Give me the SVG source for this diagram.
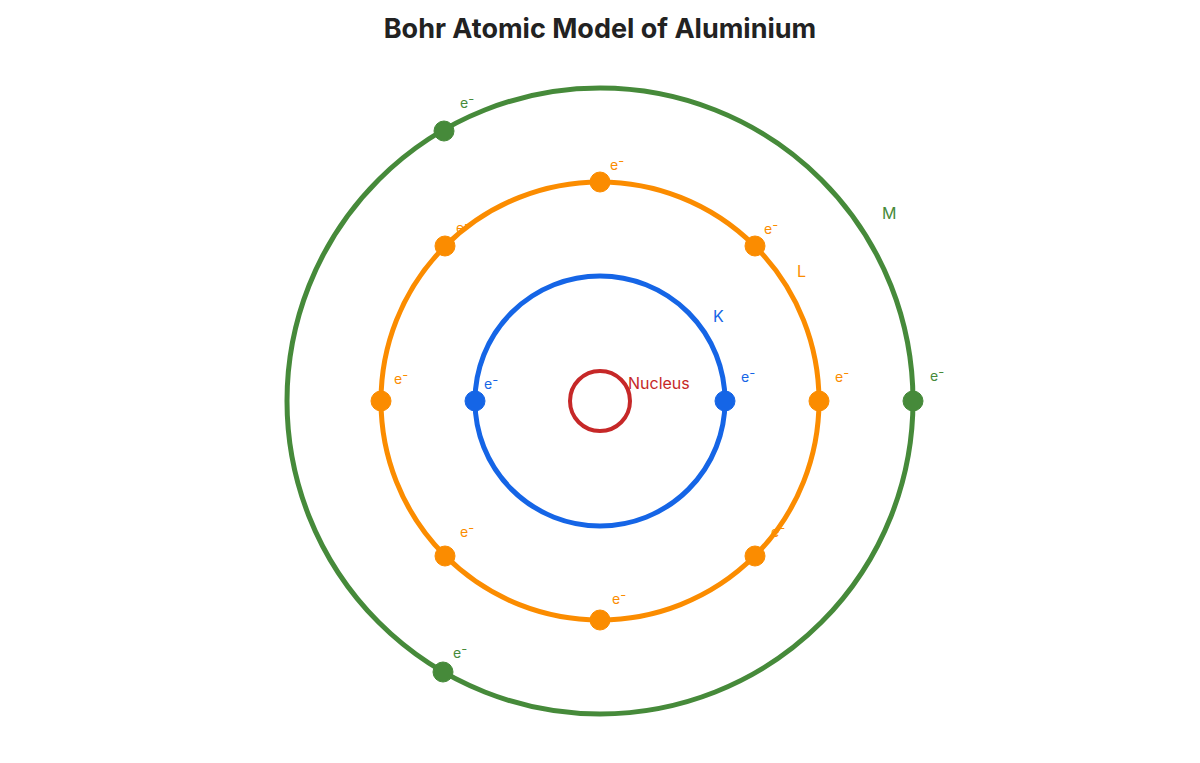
<svg xmlns="http://www.w3.org/2000/svg" width="1200" height="763" viewBox="0 0 1200 763">
<style>
text{font-family:Inter,"Noto Sans","Liberation Sans",sans-serif}
.t{font-size:27px;font-weight:700;fill:#222}
.s{font-size:16px}
.e{font-size:14px}
.orb{fill:none;stroke-width:5}
.k{fill:#1565e6;stroke:#1565e6}.l{fill:#fb8c00;stroke:#fb8c00}.m{fill:#468a3a;stroke:#468a3a}
text.k,text.l,text.m,text.n{stroke:none}
.n{fill:#c62828}
</style>
<rect width="1200" height="763" fill="#fff"/>
<text class="t" x="600" y="38" text-anchor="middle">Bohr Atomic Model of Aluminium</text>
<g id="nucleus"><circle cx="600" cy="401" r="30" fill="none" stroke="#c62828" stroke-width="4"/><text class="s n" x="628" y="389">Nucleus</text></g>
<g id="shell-K"><circle class="orb k" cx="600" cy="401" r="125" style="fill:none"/><text class="s k" x="713" y="322">K</text>
<circle class="k" cx="475" cy="401" r="10"/><text class="e k" x="484" y="389">e⁻</text>
<circle class="k" cx="725" cy="401" r="10"/><text class="e k" x="741" y="382">e⁻</text></g>
<g id="shell-L"><circle class="orb l" cx="600" cy="401" r="219" style="fill:none"/><text class="s l" x="797" y="277">L</text>
<circle class="l" cx="600" cy="182" r="10"/><text class="e l" x="610" y="170">e⁻</text>
<circle class="l" cx="755" cy="246" r="10"/><text class="e l" x="764" y="234">e⁻</text>
<circle class="l" cx="819" cy="401" r="10"/><text class="e l" x="835" y="382">e⁻</text>
<circle class="l" cx="755" cy="556" r="10"/><text class="e l" x="771" y="537">e⁻</text>
<circle class="l" cx="600" cy="620" r="10"/><text class="e l" x="612" y="604">e⁻</text>
<circle class="l" cx="445" cy="556" r="10"/><text class="e l" x="460" y="537">e⁻</text>
<circle class="l" cx="381" cy="401" r="10"/><text class="e l" x="394" y="384">e⁻</text>
<circle class="l" cx="445" cy="246" r="10"/><text class="e l" x="456" y="233">e⁻</text></g>
<g id="shell-M"><circle class="orb m" cx="600" cy="401" r="313" style="fill:none"/><text class="s m" x="882" y="219">M</text>
<circle class="m" cx="913" cy="401" r="10"/><text class="e m" x="930" y="381">e⁻</text>
<circle class="m" cx="444" cy="131" r="10"/><text class="e m" x="460" y="108">e⁻</text>
<circle class="m" cx="443" cy="672" r="10"/><text class="e m" x="453" y="658">e⁻</text></g>
<g id="connectors"/>
</svg>
